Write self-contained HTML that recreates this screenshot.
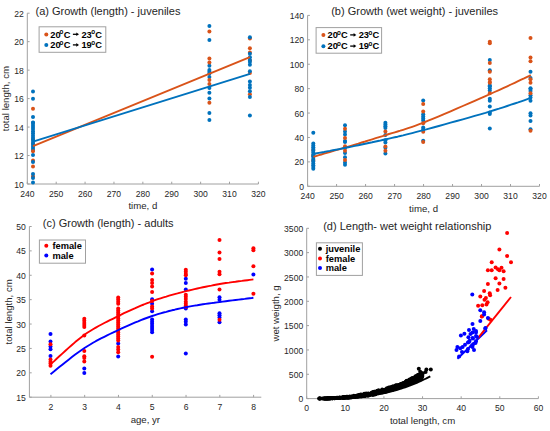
<!DOCTYPE html>
<html><head><meta charset="utf-8"><style>
html,body{margin:0;padding:0;background:#fff;width:550px;height:431px;overflow:hidden}
svg{display:block}
text{font-family:"Liberation Sans",sans-serif}
</style></head><body>
<svg width="550" height="431" viewBox="0 0 550 431" fill="#262626">
<rect width="550" height="431" fill="#fff"/>
<path d="M27.3 13.2V184.0H258.4" fill="none" stroke="#a0a0a0" stroke-width="1"/>
<path d="M27.3 184.0v-2.3" stroke="#a0a0a0" stroke-width="1"/>
<path d="M56.1875 184.0v-2.3" stroke="#a0a0a0" stroke-width="1"/>
<path d="M85.07499999999999 184.0v-2.3" stroke="#a0a0a0" stroke-width="1"/>
<path d="M113.96249999999999 184.0v-2.3" stroke="#a0a0a0" stroke-width="1"/>
<path d="M142.85 184.0v-2.3" stroke="#a0a0a0" stroke-width="1"/>
<path d="M171.73749999999998 184.0v-2.3" stroke="#a0a0a0" stroke-width="1"/>
<path d="M200.625 184.0v-2.3" stroke="#a0a0a0" stroke-width="1"/>
<path d="M229.5125 184.0v-2.3" stroke="#a0a0a0" stroke-width="1"/>
<path d="M258.4 184.0v-2.3" stroke="#a0a0a0" stroke-width="1"/>
<path d="M27.3 184.0h2.3" stroke="#a0a0a0" stroke-width="1"/>
<path d="M27.3 155.53333333333333h2.3" stroke="#a0a0a0" stroke-width="1"/>
<path d="M27.3 127.06666666666666h2.3" stroke="#a0a0a0" stroke-width="1"/>
<path d="M27.3 98.59999999999998h2.3" stroke="#a0a0a0" stroke-width="1"/>
<path d="M27.3 70.13333333333333h2.3" stroke="#a0a0a0" stroke-width="1"/>
<path d="M27.3 41.66666666666666h2.3" stroke="#a0a0a0" stroke-width="1"/>
<path d="M27.3 13.19999999999996h2.3" stroke="#a0a0a0" stroke-width="1"/>
<text transform="translate(27.30 196.50) scale(0.935 1)" font-size="9.2" text-anchor="middle">240</text>
<text transform="translate(56.19 196.50) scale(0.935 1)" font-size="9.2" text-anchor="middle">250</text>
<text transform="translate(85.07 196.50) scale(0.935 1)" font-size="9.2" text-anchor="middle">260</text>
<text transform="translate(113.96 196.50) scale(0.935 1)" font-size="9.2" text-anchor="middle">270</text>
<text transform="translate(142.85 196.50) scale(0.935 1)" font-size="9.2" text-anchor="middle">280</text>
<text transform="translate(171.74 196.50) scale(0.935 1)" font-size="9.2" text-anchor="middle">290</text>
<text transform="translate(200.62 196.50) scale(0.935 1)" font-size="9.2" text-anchor="middle">300</text>
<text transform="translate(229.51 196.50) scale(0.935 1)" font-size="9.2" text-anchor="middle">310</text>
<text transform="translate(258.40 196.50) scale(0.935 1)" font-size="9.2" text-anchor="middle">320</text>
<text transform="translate(23.80 187.60) scale(0.935 1)" font-size="9.2" text-anchor="end">10</text>
<text transform="translate(23.80 159.13) scale(0.935 1)" font-size="9.2" text-anchor="end">12</text>
<text transform="translate(23.80 130.67) scale(0.935 1)" font-size="9.2" text-anchor="end">14</text>
<text transform="translate(23.80 102.20) scale(0.935 1)" font-size="9.2" text-anchor="end">16</text>
<text transform="translate(23.80 73.73) scale(0.935 1)" font-size="9.2" text-anchor="end">18</text>
<text transform="translate(23.80 45.27) scale(0.935 1)" font-size="9.2" text-anchor="end">20</text>
<text transform="translate(23.80 16.80) scale(0.935 1)" font-size="9.2" text-anchor="end">22</text>
<text x="142.85" y="209.3" font-size="9.65" text-anchor="middle">time, d</text>
<text transform="translate(8.6 98.6) rotate(-90)" x="0" y="0" font-size="9.65" text-anchor="middle">total length, cm</text>
<text x="35.5" y="15.0" font-size="11">(a) Growth (length) - juveniles</text>
<circle cx="33.0" cy="139.5" r="2.0" fill="#D95319"/>
<circle cx="33.0" cy="143.7" r="2.0" fill="#D95319"/>
<circle cx="33.0" cy="160.4" r="2.0" fill="#D95319"/>
<circle cx="33.0" cy="176.2" r="2.0" fill="#D95319"/>
<circle cx="33.0" cy="91.4" r="2.0" fill="#0072BD"/>
<circle cx="33.0" cy="98.7" r="2.0" fill="#0072BD"/>
<circle cx="33.0" cy="117.0" r="2.0" fill="#0072BD"/>
<circle cx="33.0" cy="122.4" r="2.0" fill="#0072BD"/>
<circle cx="33.0" cy="122.8" r="2.0" fill="#0072BD"/>
<circle cx="33.0" cy="124.9" r="2.0" fill="#0072BD"/>
<circle cx="33.0" cy="127.0" r="2.0" fill="#0072BD"/>
<circle cx="33.0" cy="129.1" r="2.0" fill="#0072BD"/>
<circle cx="33.0" cy="131.2" r="2.0" fill="#0072BD"/>
<circle cx="33.0" cy="133.3" r="2.0" fill="#0072BD"/>
<circle cx="33.0" cy="135.4" r="2.0" fill="#0072BD"/>
<circle cx="33.0" cy="137.5" r="2.0" fill="#0072BD"/>
<circle cx="33.0" cy="139.6" r="2.0" fill="#0072BD"/>
<circle cx="33.0" cy="141.7" r="2.0" fill="#0072BD"/>
<circle cx="33.0" cy="143.8" r="2.0" fill="#0072BD"/>
<circle cx="33.0" cy="145.9" r="2.0" fill="#0072BD"/>
<circle cx="33.0" cy="148.0" r="2.0" fill="#0072BD"/>
<circle cx="33.0" cy="150.1" r="2.0" fill="#0072BD"/>
<circle cx="33.0" cy="155.1" r="2.0" fill="#0072BD"/>
<circle cx="33.0" cy="161.9" r="2.0" fill="#0072BD"/>
<circle cx="33.0" cy="174.1" r="2.0" fill="#0072BD"/>
<circle cx="33.0" cy="178.1" r="2.0" fill="#0072BD"/>
<circle cx="33.0" cy="182.5" r="2.0" fill="#0072BD"/>
<circle cx="33.0" cy="108.8" r="2.0" fill="#D95319"/>
<circle cx="33.0" cy="151.2" r="2.0" fill="#D95319"/>
<circle cx="33.0" cy="166.4" r="2.0" fill="#D95319"/>
<circle cx="209.4" cy="26.0" r="2.0" fill="#0072BD"/>
<circle cx="209.4" cy="39.9" r="2.0" fill="#0072BD"/>
<circle cx="209.4" cy="65.7" r="2.0" fill="#0072BD"/>
<circle cx="209.4" cy="70.1" r="2.0" fill="#0072BD"/>
<circle cx="209.4" cy="71.8" r="2.0" fill="#0072BD"/>
<circle cx="209.4" cy="73.6" r="2.0" fill="#0072BD"/>
<circle cx="209.4" cy="77.0" r="2.0" fill="#0072BD"/>
<circle cx="209.4" cy="88.0" r="2.0" fill="#0072BD"/>
<circle cx="209.4" cy="92.7" r="2.0" fill="#0072BD"/>
<circle cx="209.4" cy="98.5" r="2.0" fill="#0072BD"/>
<circle cx="209.4" cy="113.0" r="2.0" fill="#0072BD"/>
<circle cx="209.4" cy="119.9" r="2.0" fill="#0072BD"/>
<circle cx="209.4" cy="31.6" r="2.0" fill="#D95319"/>
<circle cx="209.4" cy="58.5" r="2.0" fill="#D95319"/>
<circle cx="209.4" cy="62.5" r="2.0" fill="#D95319"/>
<circle cx="209.4" cy="79.9" r="2.0" fill="#D95319"/>
<circle cx="209.4" cy="84.0" r="2.0" fill="#D95319"/>
<circle cx="209.4" cy="102.8" r="2.0" fill="#D95319"/>
<circle cx="249.9" cy="38.5" r="2.0" fill="#D95319"/>
<circle cx="249.9" cy="48.3" r="2.0" fill="#D95319"/>
<circle cx="249.9" cy="52.6" r="2.0" fill="#D95319"/>
<circle cx="249.9" cy="60.5" r="2.0" fill="#D95319"/>
<circle cx="249.9" cy="72.9" r="2.0" fill="#D95319"/>
<circle cx="249.9" cy="94.2" r="2.0" fill="#D95319"/>
<circle cx="249.9" cy="37.2" r="2.0" fill="#0072BD"/>
<circle cx="249.9" cy="53.8" r="2.0" fill="#0072BD"/>
<circle cx="249.9" cy="57.2" r="2.0" fill="#0072BD"/>
<circle cx="249.9" cy="60.0" r="2.0" fill="#0072BD"/>
<circle cx="249.9" cy="61.9" r="2.0" fill="#0072BD"/>
<circle cx="249.9" cy="64.8" r="2.0" fill="#0072BD"/>
<circle cx="249.9" cy="71.2" r="2.0" fill="#0072BD"/>
<circle cx="249.9" cy="81.4" r="2.0" fill="#0072BD"/>
<circle cx="249.9" cy="85.0" r="2.0" fill="#0072BD"/>
<circle cx="249.9" cy="87.8" r="2.0" fill="#0072BD"/>
<circle cx="249.9" cy="91.3" r="2.0" fill="#0072BD"/>
<circle cx="249.9" cy="97.1" r="2.0" fill="#0072BD"/>
<circle cx="249.9" cy="115.4" r="2.0" fill="#0072BD"/>
<path d="M33.0 146.2 L249.9 57.2" fill="none" stroke="#D95319" stroke-width="1.9" stroke-linejoin="round"/>
<path d="M33.0 141.6 L249.9 73.8" fill="none" stroke="#0072BD" stroke-width="1.9" stroke-linejoin="round"/>
<rect x="39.1" y="26.8" width="66.69999999999999" height="25.499999999999996" fill="#fff" stroke="#a0a0a0" stroke-width="1"/>
<circle cx="46.3" cy="34.4" r="2.0" fill="#D95319"/>
<text x="50.3" y="37.6" font-size="9.3" font-weight="bold" fill="#000">20</text>
<text x="59.599999999999994" y="34.1" font-size="6.3" font-weight="bold" fill="#000">o</text>
<text x="63.8" y="37.6" font-size="9.3" font-weight="bold" fill="#000">C</text>
<path d="M72.9 34.300000000000004H77.1" stroke="#000" stroke-width="1.3"/>
<path d="M76.3 32.50000000000001L79.0 34.300000000000004L76.3 36.1Z" fill="#000"/>
<text x="81.4" y="37.6" font-size="9.3" font-weight="bold" fill="#000">23</text>
<text x="91.3" y="34.1" font-size="6.3" font-weight="bold" fill="#000">o</text>
<text x="95.19999999999999" y="37.6" font-size="9.3" font-weight="bold" fill="#000">C</text>
<circle cx="46.3" cy="45.0" r="2.0" fill="#0072BD"/>
<text x="50.3" y="48.2" font-size="9.3" font-weight="bold" fill="#000">20</text>
<text x="59.599999999999994" y="44.7" font-size="6.3" font-weight="bold" fill="#000">o</text>
<text x="63.8" y="48.2" font-size="9.3" font-weight="bold" fill="#000">C</text>
<path d="M72.9 44.900000000000006H77.1" stroke="#000" stroke-width="1.3"/>
<path d="M76.3 43.10000000000001L79.0 44.900000000000006L76.3 46.7Z" fill="#000"/>
<text x="81.4" y="48.2" font-size="9.3" font-weight="bold" fill="#000">19</text>
<text x="91.3" y="44.7" font-size="6.3" font-weight="bold" fill="#000">o</text>
<text x="95.19999999999999" y="48.2" font-size="9.3" font-weight="bold" fill="#000">C</text>
<path d="M307.6 15.4V186.3H539.5" fill="none" stroke="#a0a0a0" stroke-width="1"/>
<path d="M307.6 186.3v-2.3" stroke="#a0a0a0" stroke-width="1"/>
<path d="M336.58750000000003 186.3v-2.3" stroke="#a0a0a0" stroke-width="1"/>
<path d="M365.57500000000005 186.3v-2.3" stroke="#a0a0a0" stroke-width="1"/>
<path d="M394.5625 186.3v-2.3" stroke="#a0a0a0" stroke-width="1"/>
<path d="M423.55 186.3v-2.3" stroke="#a0a0a0" stroke-width="1"/>
<path d="M452.5375 186.3v-2.3" stroke="#a0a0a0" stroke-width="1"/>
<path d="M481.525 186.3v-2.3" stroke="#a0a0a0" stroke-width="1"/>
<path d="M510.5125 186.3v-2.3" stroke="#a0a0a0" stroke-width="1"/>
<path d="M539.5 186.3v-2.3" stroke="#a0a0a0" stroke-width="1"/>
<path d="M307.6 186.3h2.3" stroke="#a0a0a0" stroke-width="1"/>
<path d="M307.6 161.8857142857143h2.3" stroke="#a0a0a0" stroke-width="1"/>
<path d="M307.6 137.4714285714286h2.3" stroke="#a0a0a0" stroke-width="1"/>
<path d="M307.6 113.05714285714286h2.3" stroke="#a0a0a0" stroke-width="1"/>
<path d="M307.6 88.64285714285715h2.3" stroke="#a0a0a0" stroke-width="1"/>
<path d="M307.6 64.22857142857144h2.3" stroke="#a0a0a0" stroke-width="1"/>
<path d="M307.6 39.81428571428572h2.3" stroke="#a0a0a0" stroke-width="1"/>
<path d="M307.6 15.400000000000006h2.3" stroke="#a0a0a0" stroke-width="1"/>
<text transform="translate(307.60 198.80) scale(0.935 1)" font-size="9.2" text-anchor="middle">240</text>
<text transform="translate(336.59 198.80) scale(0.935 1)" font-size="9.2" text-anchor="middle">250</text>
<text transform="translate(365.58 198.80) scale(0.935 1)" font-size="9.2" text-anchor="middle">260</text>
<text transform="translate(394.56 198.80) scale(0.935 1)" font-size="9.2" text-anchor="middle">270</text>
<text transform="translate(423.55 198.80) scale(0.935 1)" font-size="9.2" text-anchor="middle">280</text>
<text transform="translate(452.54 198.80) scale(0.935 1)" font-size="9.2" text-anchor="middle">290</text>
<text transform="translate(481.52 198.80) scale(0.935 1)" font-size="9.2" text-anchor="middle">300</text>
<text transform="translate(510.51 198.80) scale(0.935 1)" font-size="9.2" text-anchor="middle">310</text>
<text transform="translate(539.50 198.80) scale(0.935 1)" font-size="9.2" text-anchor="middle">320</text>
<text transform="translate(304.10 189.90) scale(0.935 1)" font-size="9.2" text-anchor="end">0</text>
<text transform="translate(304.10 165.49) scale(0.935 1)" font-size="9.2" text-anchor="end">20</text>
<text transform="translate(304.10 141.07) scale(0.935 1)" font-size="9.2" text-anchor="end">40</text>
<text transform="translate(304.10 116.66) scale(0.935 1)" font-size="9.2" text-anchor="end">60</text>
<text transform="translate(304.10 92.24) scale(0.935 1)" font-size="9.2" text-anchor="end">80</text>
<text transform="translate(304.10 67.83) scale(0.935 1)" font-size="9.2" text-anchor="end">100</text>
<text transform="translate(304.10 43.41) scale(0.935 1)" font-size="9.2" text-anchor="end">120</text>
<text transform="translate(304.10 19.00) scale(0.935 1)" font-size="9.2" text-anchor="end">140</text>
<text x="423.55" y="211.60000000000002" font-size="9.65" text-anchor="middle">time, d</text>
<text transform="translate(288.0 100.85000000000001) rotate(-90)" x="0" y="0" font-size="9.65" text-anchor="middle"></text>
<text x="331.2" y="14.9" font-size="11">(b) Growth (wet weight) - juveniles</text>
<circle cx="313.3" cy="150.0" r="2.0" fill="#D95319"/>
<circle cx="313.3" cy="155.5" r="2.0" fill="#D95319"/>
<circle cx="313.3" cy="160.5" r="2.0" fill="#D95319"/>
<circle cx="313.3" cy="132.7" r="2.0" fill="#0072BD"/>
<circle cx="313.3" cy="143.6" r="2.0" fill="#0072BD"/>
<circle cx="313.3" cy="145.4" r="2.0" fill="#0072BD"/>
<circle cx="313.3" cy="147.2" r="2.0" fill="#0072BD"/>
<circle cx="313.3" cy="149.0" r="2.0" fill="#0072BD"/>
<circle cx="313.3" cy="150.8" r="2.0" fill="#0072BD"/>
<circle cx="313.3" cy="152.6" r="2.0" fill="#0072BD"/>
<circle cx="313.3" cy="154.4" r="2.0" fill="#0072BD"/>
<circle cx="313.3" cy="156.2" r="2.0" fill="#0072BD"/>
<circle cx="313.3" cy="158.0" r="2.0" fill="#0072BD"/>
<circle cx="313.3" cy="159.8" r="2.0" fill="#0072BD"/>
<circle cx="313.3" cy="161.6" r="2.0" fill="#0072BD"/>
<circle cx="313.3" cy="163.4" r="2.0" fill="#0072BD"/>
<circle cx="313.3" cy="165.2" r="2.0" fill="#0072BD"/>
<circle cx="313.3" cy="167.0" r="2.0" fill="#0072BD"/>
<circle cx="313.3" cy="168.8" r="2.0" fill="#0072BD"/>
<circle cx="345.0" cy="125.2" r="2.0" fill="#0072BD"/>
<circle cx="345.0" cy="131.6" r="2.0" fill="#0072BD"/>
<circle cx="345.0" cy="134.5" r="2.0" fill="#0072BD"/>
<circle cx="345.0" cy="140.9" r="2.0" fill="#0072BD"/>
<circle cx="345.0" cy="142.1" r="2.0" fill="#0072BD"/>
<circle cx="345.0" cy="147.9" r="2.0" fill="#0072BD"/>
<circle cx="345.0" cy="153.1" r="2.0" fill="#0072BD"/>
<circle cx="345.0" cy="157.2" r="2.0" fill="#0072BD"/>
<circle cx="345.0" cy="162.4" r="2.0" fill="#0072BD"/>
<circle cx="345.0" cy="164.8" r="2.0" fill="#0072BD"/>
<circle cx="345.0" cy="128.7" r="2.0" fill="#D95319"/>
<circle cx="345.0" cy="138.0" r="2.0" fill="#D95319"/>
<circle cx="345.0" cy="146.2" r="2.0" fill="#D95319"/>
<circle cx="345.0" cy="150.8" r="2.0" fill="#D95319"/>
<circle cx="345.0" cy="160.1" r="2.0" fill="#D95319"/>
<circle cx="385.4" cy="122.8" r="2.0" fill="#0072BD"/>
<circle cx="385.4" cy="124.5" r="2.0" fill="#0072BD"/>
<circle cx="385.4" cy="126.3" r="2.0" fill="#0072BD"/>
<circle cx="385.4" cy="128.0" r="2.0" fill="#0072BD"/>
<circle cx="385.4" cy="135.0" r="2.0" fill="#0072BD"/>
<circle cx="385.4" cy="140.2" r="2.0" fill="#0072BD"/>
<circle cx="385.4" cy="142.6" r="2.0" fill="#0072BD"/>
<circle cx="385.4" cy="147.8" r="2.0" fill="#0072BD"/>
<circle cx="385.4" cy="153.6" r="2.0" fill="#0072BD"/>
<circle cx="385.4" cy="131.5" r="2.0" fill="#D95319"/>
<circle cx="385.4" cy="146.6" r="2.0" fill="#D95319"/>
<circle cx="385.4" cy="150.7" r="2.0" fill="#D95319"/>
<circle cx="423.2" cy="100.4" r="2.0" fill="#0072BD"/>
<circle cx="423.2" cy="114.3" r="2.0" fill="#0072BD"/>
<circle cx="423.2" cy="116.4" r="2.0" fill="#0072BD"/>
<circle cx="423.2" cy="118.5" r="2.0" fill="#0072BD"/>
<circle cx="423.2" cy="120.6" r="2.0" fill="#0072BD"/>
<circle cx="423.2" cy="127.5" r="2.0" fill="#0072BD"/>
<circle cx="423.2" cy="129.6" r="2.0" fill="#0072BD"/>
<circle cx="423.2" cy="140.7" r="2.0" fill="#0072BD"/>
<circle cx="423.2" cy="103.9" r="2.0" fill="#D95319"/>
<circle cx="423.2" cy="111.5" r="2.0" fill="#D95319"/>
<circle cx="423.2" cy="123.3" r="2.0" fill="#D95319"/>
<circle cx="423.2" cy="131.7" r="2.0" fill="#D95319"/>
<circle cx="423.2" cy="142.1" r="2.0" fill="#D95319"/>
<circle cx="489.8" cy="59.9" r="2.0" fill="#0072BD"/>
<circle cx="489.8" cy="70.3" r="2.0" fill="#0072BD"/>
<circle cx="489.8" cy="85.6" r="2.0" fill="#0072BD"/>
<circle cx="489.8" cy="86.3" r="2.0" fill="#0072BD"/>
<circle cx="489.8" cy="88.3" r="2.0" fill="#0072BD"/>
<circle cx="489.8" cy="90.4" r="2.0" fill="#0072BD"/>
<circle cx="489.8" cy="98.8" r="2.0" fill="#0072BD"/>
<circle cx="489.8" cy="100.8" r="2.0" fill="#0072BD"/>
<circle cx="489.8" cy="106.4" r="2.0" fill="#0072BD"/>
<circle cx="489.8" cy="112.6" r="2.0" fill="#0072BD"/>
<circle cx="489.8" cy="114.0" r="2.0" fill="#0072BD"/>
<circle cx="489.8" cy="128.6" r="2.0" fill="#0072BD"/>
<circle cx="489.8" cy="41.8" r="2.0" fill="#D95319"/>
<circle cx="489.8" cy="43.2" r="2.0" fill="#D95319"/>
<circle cx="489.8" cy="63.1" r="2.0" fill="#D95319"/>
<circle cx="489.8" cy="71.7" r="2.0" fill="#D95319"/>
<circle cx="489.8" cy="79.3" r="2.0" fill="#D95319"/>
<circle cx="489.8" cy="82.8" r="2.0" fill="#D95319"/>
<circle cx="489.8" cy="82.1" r="2.0" fill="#D95319"/>
<circle cx="489.8" cy="93.2" r="2.0" fill="#D95319"/>
<circle cx="530.5" cy="71.7" r="2.0" fill="#0072BD"/>
<circle cx="530.5" cy="77.9" r="2.0" fill="#0072BD"/>
<circle cx="530.5" cy="88.3" r="2.0" fill="#0072BD"/>
<circle cx="530.5" cy="89.0" r="2.0" fill="#0072BD"/>
<circle cx="530.5" cy="91.1" r="2.0" fill="#0072BD"/>
<circle cx="530.5" cy="95.3" r="2.0" fill="#0072BD"/>
<circle cx="530.5" cy="97.4" r="2.0" fill="#0072BD"/>
<circle cx="530.5" cy="100.8" r="2.0" fill="#0072BD"/>
<circle cx="530.5" cy="113.3" r="2.0" fill="#0072BD"/>
<circle cx="530.5" cy="115.4" r="2.0" fill="#0072BD"/>
<circle cx="530.5" cy="121.0" r="2.0" fill="#0072BD"/>
<circle cx="530.5" cy="129.3" r="2.0" fill="#0072BD"/>
<circle cx="530.5" cy="38.1" r="2.0" fill="#D95319"/>
<circle cx="530.5" cy="57.5" r="2.0" fill="#D95319"/>
<circle cx="530.5" cy="61.3" r="2.0" fill="#D95319"/>
<circle cx="530.5" cy="79.3" r="2.0" fill="#D95319"/>
<circle cx="530.5" cy="82.8" r="2.0" fill="#D95319"/>
<circle cx="530.5" cy="93.2" r="2.0" fill="#D95319"/>
<circle cx="530.5" cy="130.7" r="2.0" fill="#D95319"/>
<path d="M313.4 156.8 L314.9 156.3 L316.8 155.8 L318.9 155.2 L321.3 154.5 L324.0 153.7 L326.8 152.9 L329.8 152.0 L332.8 151.2 L336.0 150.2 L339.1 149.3 L342.2 148.4 L345.3 147.5 L348.4 146.6 L351.6 145.6 L354.9 144.6 L358.3 143.6 L361.7 142.5 L365.2 141.5 L368.7 140.4 L372.2 139.3 L375.7 138.2 L379.2 137.1 L382.6 136.1 L385.9 135.0 L389.0 134.0 L392.0 133.1 L394.8 132.3 L397.6 131.5 L400.3 130.7 L403.1 129.8 L405.9 128.9 L408.9 127.9 L412.2 126.8 L415.6 125.6 L419.4 124.2 L423.6 122.6 L428.2 120.7 L433.3 118.6 L438.8 116.3 L444.6 113.9 L450.6 111.3 L456.7 108.7 L462.8 106.0 L468.9 103.4 L474.7 100.8 L480.3 98.4 L485.5 96.1 L490.2 94.0 L494.6 92.0 L499.0 90.1 L503.2 88.2 L507.2 86.3 L511.0 84.5 L514.7 82.8 L518.1 81.2 L521.2 79.7 L524.1 78.4 L526.7 77.1 L528.9 76.1 L530.8 75.2" fill="none" stroke="#D95319" stroke-width="1.9" stroke-linejoin="round"/>
<path d="M313.4 154.0 L314.9 153.7 L316.8 153.3 L318.9 152.9 L321.3 152.5 L324.0 152.0 L326.8 151.4 L329.8 150.9 L332.8 150.3 L336.0 149.7 L339.1 149.1 L342.2 148.5 L345.3 147.8 L348.4 147.2 L351.6 146.6 L354.9 145.9 L358.3 145.2 L361.7 144.5 L365.2 143.8 L368.7 143.0 L372.2 142.3 L375.7 141.5 L379.2 140.8 L382.6 140.0 L385.9 139.3 L389.0 138.6 L392.0 137.9 L394.8 137.3 L397.6 136.7 L400.3 136.0 L403.1 135.4 L405.9 134.7 L408.9 133.9 L412.2 133.1 L415.6 132.2 L419.4 131.2 L423.6 130.1 L428.2 128.9 L433.3 127.5 L438.8 126.0 L444.6 124.4 L450.6 122.7 L456.7 121.0 L462.8 119.3 L468.9 117.6 L474.7 115.9 L480.3 114.3 L485.5 112.8 L490.2 111.3 L494.6 110.0 L499.0 108.7 L503.2 107.3 L507.2 106.0 L511.0 104.7 L514.7 103.5 L518.1 102.4 L521.2 101.3 L524.1 100.3 L526.7 99.4 L528.9 98.7 L530.8 98.0" fill="none" stroke="#0072BD" stroke-width="1.9" stroke-linejoin="round"/>
<rect x="316.1" y="27.6" width="65.5" height="25.6" fill="#fff" stroke="#a0a0a0" stroke-width="1"/>
<circle cx="323.4" cy="35.0" r="2.0" fill="#D95319"/>
<text x="327.6" y="38.2" font-size="9.3" font-weight="bold" fill="#000">20</text>
<text x="336.90000000000003" y="34.7" font-size="6.3" font-weight="bold" fill="#000">o</text>
<text x="341.1" y="38.2" font-size="9.3" font-weight="bold" fill="#000">C</text>
<path d="M350.20000000000005 34.900000000000006H354.40000000000003" stroke="#000" stroke-width="1.3"/>
<path d="M353.6 33.10000000000001L356.3 34.900000000000006L353.6 36.7Z" fill="#000"/>
<text x="358.70000000000005" y="38.2" font-size="9.3" font-weight="bold" fill="#000">23</text>
<text x="368.6" y="34.7" font-size="6.3" font-weight="bold" fill="#000">o</text>
<text x="372.5" y="38.2" font-size="9.3" font-weight="bold" fill="#000">C</text>
<circle cx="323.4" cy="46.2" r="2.0" fill="#0072BD"/>
<text x="327.6" y="49.400000000000006" font-size="9.3" font-weight="bold" fill="#000">20</text>
<text x="336.90000000000003" y="45.900000000000006" font-size="6.3" font-weight="bold" fill="#000">o</text>
<text x="341.1" y="49.400000000000006" font-size="9.3" font-weight="bold" fill="#000">C</text>
<path d="M350.20000000000005 46.10000000000001H354.40000000000003" stroke="#000" stroke-width="1.3"/>
<path d="M353.6 44.30000000000001L356.3 46.10000000000001L353.6 47.900000000000006Z" fill="#000"/>
<text x="358.70000000000005" y="49.400000000000006" font-size="9.3" font-weight="bold" fill="#000">19</text>
<text x="368.6" y="45.900000000000006" font-size="6.3" font-weight="bold" fill="#000">o</text>
<text x="372.5" y="49.400000000000006" font-size="9.3" font-weight="bold" fill="#000">C</text>
<path d="M29.4 226.5V397.2H261.3" fill="none" stroke="#a0a0a0" stroke-width="1"/>
<path d="M50.9 397.2v-2.3" stroke="#a0a0a0" stroke-width="1"/>
<path d="M84.68333333333334 397.2v-2.3" stroke="#a0a0a0" stroke-width="1"/>
<path d="M118.46666666666667 397.2v-2.3" stroke="#a0a0a0" stroke-width="1"/>
<path d="M152.24999999999997 397.2v-2.3" stroke="#a0a0a0" stroke-width="1"/>
<path d="M186.03333333333333 397.2v-2.3" stroke="#a0a0a0" stroke-width="1"/>
<path d="M219.81666666666666 397.2v-2.3" stroke="#a0a0a0" stroke-width="1"/>
<path d="M253.59999999999997 397.2v-2.3" stroke="#a0a0a0" stroke-width="1"/>
<path d="M29.4 397.2h2.3" stroke="#a0a0a0" stroke-width="1"/>
<path d="M29.4 372.8142857142857h2.3" stroke="#a0a0a0" stroke-width="1"/>
<path d="M29.4 348.42857142857144h2.3" stroke="#a0a0a0" stroke-width="1"/>
<path d="M29.4 324.04285714285714h2.3" stroke="#a0a0a0" stroke-width="1"/>
<path d="M29.4 299.65714285714284h2.3" stroke="#a0a0a0" stroke-width="1"/>
<path d="M29.4 275.27142857142854h2.3" stroke="#a0a0a0" stroke-width="1"/>
<path d="M29.4 250.88571428571427h2.3" stroke="#a0a0a0" stroke-width="1"/>
<path d="M29.4 226.5h2.3" stroke="#a0a0a0" stroke-width="1"/>
<text transform="translate(50.90 409.70) scale(0.935 1)" font-size="9.2" text-anchor="middle">2</text>
<text transform="translate(84.68 409.70) scale(0.935 1)" font-size="9.2" text-anchor="middle">3</text>
<text transform="translate(118.47 409.70) scale(0.935 1)" font-size="9.2" text-anchor="middle">4</text>
<text transform="translate(152.25 409.70) scale(0.935 1)" font-size="9.2" text-anchor="middle">5</text>
<text transform="translate(186.03 409.70) scale(0.935 1)" font-size="9.2" text-anchor="middle">6</text>
<text transform="translate(219.82 409.70) scale(0.935 1)" font-size="9.2" text-anchor="middle">7</text>
<text transform="translate(253.60 409.70) scale(0.935 1)" font-size="9.2" text-anchor="middle">8</text>
<text transform="translate(25.90 400.80) scale(0.935 1)" font-size="9.2" text-anchor="end">15</text>
<text transform="translate(25.90 376.41) scale(0.935 1)" font-size="9.2" text-anchor="end">20</text>
<text transform="translate(25.90 352.03) scale(0.935 1)" font-size="9.2" text-anchor="end">25</text>
<text transform="translate(25.90 327.64) scale(0.935 1)" font-size="9.2" text-anchor="end">30</text>
<text transform="translate(25.90 303.26) scale(0.935 1)" font-size="9.2" text-anchor="end">35</text>
<text transform="translate(25.90 278.87) scale(0.935 1)" font-size="9.2" text-anchor="end">40</text>
<text transform="translate(25.90 254.49) scale(0.935 1)" font-size="9.2" text-anchor="end">45</text>
<text transform="translate(25.90 230.10) scale(0.935 1)" font-size="9.2" text-anchor="end">50</text>
<text x="145.35" y="422.5" font-size="9.65" text-anchor="middle">age, yr</text>
<text transform="translate(12.0 311.85) rotate(-90)" x="0" y="0" font-size="9.65" text-anchor="middle">total length, cm</text>
<text x="42.8" y="227.4" font-size="11">(c) Growth (length) - adults</text>
<circle cx="50.5" cy="333.9" r="2.0" fill="#0000FF"/>
<circle cx="50.5" cy="341.5" r="2.0" fill="#0000FF"/>
<circle cx="50.5" cy="346.4" r="2.0" fill="#0000FF"/>
<circle cx="50.5" cy="349.2" r="2.0" fill="#0000FF"/>
<circle cx="50.5" cy="356.1" r="2.0" fill="#0000FF"/>
<circle cx="50.5" cy="344.3" r="2.0" fill="#FF0000"/>
<circle cx="50.5" cy="359.6" r="2.0" fill="#FF0000"/>
<circle cx="50.5" cy="361.7" r="2.0" fill="#FF0000"/>
<circle cx="50.5" cy="363.5" r="2.0" fill="#FF0000"/>
<circle cx="50.5" cy="365.8" r="2.0" fill="#FF0000"/>
<circle cx="84.3" cy="368.5" r="2.0" fill="#0000FF"/>
<circle cx="84.3" cy="373.1" r="2.0" fill="#0000FF"/>
<circle cx="84.3" cy="318.8" r="2.0" fill="#FF0000"/>
<circle cx="84.3" cy="320.8" r="2.0" fill="#FF0000"/>
<circle cx="84.3" cy="322.9" r="2.0" fill="#FF0000"/>
<circle cx="84.3" cy="325.0" r="2.0" fill="#FF0000"/>
<circle cx="84.3" cy="327.1" r="2.0" fill="#FF0000"/>
<circle cx="84.3" cy="335.6" r="2.0" fill="#FF0000"/>
<circle cx="84.3" cy="351.0" r="2.0" fill="#FF0000"/>
<circle cx="84.3" cy="356.3" r="2.0" fill="#FF0000"/>
<circle cx="84.3" cy="358.0" r="2.0" fill="#FF0000"/>
<circle cx="84.3" cy="361.5" r="2.0" fill="#FF0000"/>
<circle cx="118.2" cy="343.6" r="2.0" fill="#0000FF"/>
<circle cx="118.2" cy="356.6" r="2.0" fill="#0000FF"/>
<circle cx="118.2" cy="297.5" r="2.0" fill="#FF0000"/>
<circle cx="118.2" cy="299.6" r="2.0" fill="#FF0000"/>
<circle cx="118.2" cy="301.7" r="2.0" fill="#FF0000"/>
<circle cx="118.2" cy="303.8" r="2.0" fill="#FF0000"/>
<circle cx="118.2" cy="308.6" r="2.0" fill="#FF0000"/>
<circle cx="118.2" cy="310.6" r="2.0" fill="#FF0000"/>
<circle cx="118.2" cy="312.6" r="2.0" fill="#FF0000"/>
<circle cx="118.2" cy="314.6" r="2.0" fill="#FF0000"/>
<circle cx="118.2" cy="316.6" r="2.0" fill="#FF0000"/>
<circle cx="118.2" cy="318.6" r="2.0" fill="#FF0000"/>
<circle cx="118.2" cy="320.6" r="2.0" fill="#FF0000"/>
<circle cx="118.2" cy="322.6" r="2.0" fill="#FF0000"/>
<circle cx="118.2" cy="324.6" r="2.0" fill="#FF0000"/>
<circle cx="118.2" cy="326.6" r="2.0" fill="#FF0000"/>
<circle cx="118.2" cy="328.6" r="2.0" fill="#FF0000"/>
<circle cx="118.2" cy="330.6" r="2.0" fill="#FF0000"/>
<circle cx="118.2" cy="332.6" r="2.0" fill="#FF0000"/>
<circle cx="118.2" cy="334.6" r="2.0" fill="#FF0000"/>
<circle cx="118.2" cy="336.6" r="2.0" fill="#FF0000"/>
<circle cx="118.2" cy="338.6" r="2.0" fill="#FF0000"/>
<circle cx="118.2" cy="340.6" r="2.0" fill="#FF0000"/>
<circle cx="118.2" cy="347.1" r="2.0" fill="#FF0000"/>
<circle cx="118.2" cy="349.5" r="2.0" fill="#FF0000"/>
<circle cx="118.2" cy="352.3" r="2.0" fill="#FF0000"/>
<circle cx="152.1" cy="269.4" r="2.0" fill="#0000FF"/>
<circle cx="152.1" cy="299.2" r="2.0" fill="#0000FF"/>
<circle cx="152.1" cy="303.8" r="2.0" fill="#0000FF"/>
<circle cx="152.1" cy="311.2" r="2.0" fill="#0000FF"/>
<circle cx="152.1" cy="319.6" r="2.0" fill="#0000FF"/>
<circle cx="152.1" cy="321.7" r="2.0" fill="#0000FF"/>
<circle cx="152.1" cy="323.8" r="2.0" fill="#0000FF"/>
<circle cx="152.1" cy="325.9" r="2.0" fill="#0000FF"/>
<circle cx="152.1" cy="328.0" r="2.0" fill="#0000FF"/>
<circle cx="152.1" cy="330.1" r="2.0" fill="#0000FF"/>
<circle cx="152.1" cy="332.2" r="2.0" fill="#0000FF"/>
<circle cx="152.1" cy="273.6" r="2.0" fill="#FF0000"/>
<circle cx="152.1" cy="280.1" r="2.0" fill="#FF0000"/>
<circle cx="152.1" cy="282.9" r="2.0" fill="#FF0000"/>
<circle cx="152.1" cy="286.4" r="2.0" fill="#FF0000"/>
<circle cx="152.1" cy="291.9" r="2.0" fill="#FF0000"/>
<circle cx="152.1" cy="301.0" r="2.0" fill="#FF0000"/>
<circle cx="152.1" cy="306.5" r="2.0" fill="#FF0000"/>
<circle cx="152.1" cy="308.6" r="2.0" fill="#FF0000"/>
<circle cx="152.1" cy="356.7" r="2.0" fill="#FF0000"/>
<circle cx="185.8" cy="278.8" r="2.0" fill="#0000FF"/>
<circle cx="185.8" cy="282.9" r="2.0" fill="#0000FF"/>
<circle cx="185.8" cy="289.6" r="2.0" fill="#0000FF"/>
<circle cx="185.8" cy="308.6" r="2.0" fill="#0000FF"/>
<circle cx="185.8" cy="319.6" r="2.0" fill="#0000FF"/>
<circle cx="185.8" cy="321.7" r="2.0" fill="#0000FF"/>
<circle cx="185.8" cy="324.4" r="2.0" fill="#0000FF"/>
<circle cx="185.8" cy="353.6" r="2.0" fill="#0000FF"/>
<circle cx="185.8" cy="269.7" r="2.0" fill="#FF0000"/>
<circle cx="185.8" cy="271.8" r="2.0" fill="#FF0000"/>
<circle cx="185.8" cy="273.9" r="2.0" fill="#FF0000"/>
<circle cx="185.8" cy="275.3" r="2.0" fill="#FF0000"/>
<circle cx="185.8" cy="294.7" r="2.0" fill="#FF0000"/>
<circle cx="185.8" cy="296.8" r="2.0" fill="#FF0000"/>
<circle cx="185.8" cy="298.9" r="2.0" fill="#FF0000"/>
<circle cx="185.8" cy="301.7" r="2.0" fill="#FF0000"/>
<circle cx="185.8" cy="303.8" r="2.0" fill="#FF0000"/>
<circle cx="185.8" cy="305.8" r="2.0" fill="#FF0000"/>
<circle cx="185.8" cy="307.0" r="2.0" fill="#FF0000"/>
<circle cx="219.5" cy="297.2" r="2.0" fill="#0000FF"/>
<circle cx="219.5" cy="299.7" r="2.0" fill="#0000FF"/>
<circle cx="219.5" cy="313.2" r="2.0" fill="#0000FF"/>
<circle cx="219.5" cy="315.3" r="2.0" fill="#0000FF"/>
<circle cx="219.5" cy="317.4" r="2.0" fill="#0000FF"/>
<circle cx="219.5" cy="322.2" r="2.0" fill="#0000FF"/>
<circle cx="219.5" cy="240.1" r="2.0" fill="#FF0000"/>
<circle cx="219.5" cy="252.5" r="2.0" fill="#FF0000"/>
<circle cx="219.5" cy="258.9" r="2.0" fill="#FF0000"/>
<circle cx="219.5" cy="271.7" r="2.0" fill="#FF0000"/>
<circle cx="219.5" cy="274.2" r="2.0" fill="#FF0000"/>
<circle cx="219.5" cy="289.6" r="2.0" fill="#FF0000"/>
<circle cx="219.5" cy="319.7" r="2.0" fill="#FF0000"/>
<circle cx="253.4" cy="274.6" r="2.0" fill="#0000FF"/>
<circle cx="253.4" cy="248.3" r="2.0" fill="#FF0000"/>
<circle cx="253.4" cy="250.2" r="2.0" fill="#FF0000"/>
<circle cx="253.4" cy="266.3" r="2.0" fill="#FF0000"/>
<circle cx="253.4" cy="293.7" r="2.0" fill="#FF0000"/>
<path d="M50.5 364.4 L52.1 362.9 L54.2 361.1 L56.6 358.8 L59.3 356.3 L62.3 353.6 L65.4 350.8 L68.6 347.9 L71.9 345.0 L75.2 342.1 L78.4 339.5 L81.6 337.0 L84.5 334.8 L87.3 332.8 L90.2 331.0 L93.0 329.2 L95.8 327.6 L98.6 326.0 L101.5 324.5 L104.3 323.0 L107.1 321.6 L109.9 320.2 L112.8 318.8 L115.6 317.4 L118.4 316.0 L121.2 314.6 L124.0 313.2 L126.9 311.9 L129.7 310.6 L132.5 309.3 L135.3 308.1 L138.1 306.8 L140.9 305.6 L143.8 304.5 L146.6 303.3 L149.4 302.3 L152.2 301.2 L155.0 300.2 L157.8 299.2 L160.6 298.3 L163.5 297.4 L166.3 296.6 L169.1 295.7 L171.9 294.9 L174.7 294.1 L177.5 293.4 L180.4 292.6 L183.2 291.9 L186.0 291.2 L188.8 290.5 L191.6 289.8 L194.5 289.1 L197.3 288.5 L200.1 287.9 L202.9 287.3 L205.7 286.7 L208.5 286.1 L211.4 285.6 L214.2 285.0 L217.0 284.5 L219.8 284.0 L222.7 283.5 L225.8 283.0 L229.0 282.6 L232.3 282.1 L235.5 281.7 L238.7 281.2 L241.8 280.9 L244.7 280.5 L247.4 280.2 L249.7 279.9 L251.8 279.6 L253.4 279.4" fill="none" stroke="#FF0000" stroke-width="1.9" stroke-linejoin="round"/>
<path d="M50.5 374.2 L52.1 372.9 L54.2 371.3 L56.6 369.3 L59.3 367.1 L62.3 364.7 L65.4 362.2 L68.6 359.7 L71.9 357.1 L75.2 354.6 L78.4 352.2 L81.6 350.0 L84.5 348.0 L87.3 346.2 L90.2 344.5 L93.0 342.8 L95.8 341.2 L98.6 339.7 L101.5 338.2 L104.3 336.8 L107.1 335.4 L109.9 334.0 L112.8 332.7 L115.6 331.3 L118.4 330.0 L121.2 328.7 L124.0 327.4 L126.9 326.1 L129.7 324.8 L132.5 323.6 L135.3 322.4 L138.1 321.3 L140.9 320.1 L143.8 319.0 L146.6 318.0 L149.4 317.0 L152.2 316.0 L155.0 315.1 L157.8 314.2 L160.6 313.3 L163.5 312.5 L166.3 311.8 L169.1 311.0 L171.9 310.3 L174.7 309.7 L177.5 309.0 L180.4 308.4 L183.2 307.8 L186.0 307.2 L188.8 306.6 L191.6 306.1 L194.5 305.6 L197.3 305.2 L200.1 304.7 L202.9 304.3 L205.7 303.9 L208.5 303.5 L211.4 303.1 L214.2 302.8 L217.0 302.4 L219.8 302.0 L222.7 301.6 L225.8 301.2 L229.0 300.8 L232.3 300.4 L235.5 300.0 L238.7 299.6 L241.8 299.2 L244.7 298.9 L247.4 298.5 L249.7 298.2 L251.8 298.0 L253.4 297.8" fill="none" stroke="#0000FF" stroke-width="1.9" stroke-linejoin="round"/>
<rect x="39.4" y="240.0" width="46.1" height="23.19999999999999" fill="#fff" stroke="#a0a0a0" stroke-width="1"/>
<circle cx="46.3" cy="245.8" r="2.0" fill="#FF0000"/>
<text x="52.4" y="249.10000000000002" font-size="9.3" font-weight="bold" fill="#000">female</text>
<circle cx="46.3" cy="255.6" r="2.0" fill="#0000FF"/>
<text x="52.4" y="258.9" font-size="9.3" font-weight="bold" fill="#000">male</text>
<path d="M306.7 228.3V398.6H538.4" fill="none" stroke="#a0a0a0" stroke-width="1"/>
<path d="M306.7 398.6v-2.3" stroke="#a0a0a0" stroke-width="1"/>
<path d="M345.31666666666666 398.6v-2.3" stroke="#a0a0a0" stroke-width="1"/>
<path d="M383.93333333333334 398.6v-2.3" stroke="#a0a0a0" stroke-width="1"/>
<path d="M422.54999999999995 398.6v-2.3" stroke="#a0a0a0" stroke-width="1"/>
<path d="M461.16666666666663 398.6v-2.3" stroke="#a0a0a0" stroke-width="1"/>
<path d="M499.7833333333333 398.6v-2.3" stroke="#a0a0a0" stroke-width="1"/>
<path d="M538.4 398.6v-2.3" stroke="#a0a0a0" stroke-width="1"/>
<path d="M306.7 398.6h2.3" stroke="#a0a0a0" stroke-width="1"/>
<path d="M306.7 374.2714285714286h2.3" stroke="#a0a0a0" stroke-width="1"/>
<path d="M306.7 349.9428571428572h2.3" stroke="#a0a0a0" stroke-width="1"/>
<path d="M306.7 325.61428571428576h2.3" stroke="#a0a0a0" stroke-width="1"/>
<path d="M306.7 301.28571428571433h2.3" stroke="#a0a0a0" stroke-width="1"/>
<path d="M306.7 276.9571428571429h2.3" stroke="#a0a0a0" stroke-width="1"/>
<path d="M306.7 252.62857142857143h2.3" stroke="#a0a0a0" stroke-width="1"/>
<path d="M306.7 228.3h2.3" stroke="#a0a0a0" stroke-width="1"/>
<text transform="translate(306.70 411.10) scale(0.935 1)" font-size="9.2" text-anchor="middle">0</text>
<text transform="translate(345.32 411.10) scale(0.935 1)" font-size="9.2" text-anchor="middle">10</text>
<text transform="translate(383.93 411.10) scale(0.935 1)" font-size="9.2" text-anchor="middle">20</text>
<text transform="translate(422.55 411.10) scale(0.935 1)" font-size="9.2" text-anchor="middle">30</text>
<text transform="translate(461.17 411.10) scale(0.935 1)" font-size="9.2" text-anchor="middle">40</text>
<text transform="translate(499.78 411.10) scale(0.935 1)" font-size="9.2" text-anchor="middle">50</text>
<text transform="translate(538.40 411.10) scale(0.935 1)" font-size="9.2" text-anchor="middle">60</text>
<text transform="translate(303.20 402.20) scale(0.935 1)" font-size="9.2" text-anchor="end">0</text>
<text transform="translate(303.20 377.87) scale(0.935 1)" font-size="9.2" text-anchor="end">500</text>
<text transform="translate(303.20 353.54) scale(0.935 1)" font-size="9.2" text-anchor="end">1000</text>
<text transform="translate(303.20 329.21) scale(0.935 1)" font-size="9.2" text-anchor="end">1500</text>
<text transform="translate(303.20 304.89) scale(0.935 1)" font-size="9.2" text-anchor="end">2000</text>
<text transform="translate(303.20 280.56) scale(0.935 1)" font-size="9.2" text-anchor="end">2500</text>
<text transform="translate(303.20 256.23) scale(0.935 1)" font-size="9.2" text-anchor="end">3000</text>
<text transform="translate(303.20 231.90) scale(0.935 1)" font-size="9.2" text-anchor="end">3500</text>
<text x="422.54999999999995" y="423.90000000000003" font-size="9.65" text-anchor="middle">total length, cm</text>
<text transform="translate(279.1 313.45000000000005) rotate(-90)" x="0" y="0" font-size="9.65" text-anchor="middle">wet weigth, g</text>
<text x="323.2" y="229.8" font-size="11">(d) Length- wet weight relationship</text>
<circle cx="353.8" cy="396.9" r="2.0" fill="#000"/>
<circle cx="389.7" cy="389.5" r="2.0" fill="#000"/>
<circle cx="391.6" cy="388.5" r="2.0" fill="#000"/>
<circle cx="409.6" cy="381.8" r="2.0" fill="#000"/>
<circle cx="356.2" cy="396.1" r="2.0" fill="#000"/>
<circle cx="377.5" cy="390.8" r="2.0" fill="#000"/>
<circle cx="409.5" cy="383.6" r="2.0" fill="#000"/>
<circle cx="343.5" cy="397.5" r="2.0" fill="#000"/>
<circle cx="392.4" cy="387.6" r="2.0" fill="#000"/>
<circle cx="401.6" cy="386.1" r="2.0" fill="#000"/>
<circle cx="395.6" cy="385.7" r="2.0" fill="#000"/>
<circle cx="388.6" cy="388.9" r="2.0" fill="#000"/>
<circle cx="360.7" cy="394.5" r="2.0" fill="#000"/>
<circle cx="377.7" cy="392.1" r="2.0" fill="#000"/>
<circle cx="399.7" cy="384.8" r="2.0" fill="#000"/>
<circle cx="416.3" cy="380.3" r="2.0" fill="#000"/>
<circle cx="370.2" cy="393.8" r="2.0" fill="#000"/>
<circle cx="417.5" cy="379.7" r="2.0" fill="#000"/>
<circle cx="412.9" cy="379.8" r="2.0" fill="#000"/>
<circle cx="351.4" cy="396.7" r="2.0" fill="#000"/>
<circle cx="419.8" cy="379.0" r="2.0" fill="#000"/>
<circle cx="360.7" cy="395.4" r="2.0" fill="#000"/>
<circle cx="381.0" cy="392.3" r="2.0" fill="#000"/>
<circle cx="388.0" cy="389.1" r="2.0" fill="#000"/>
<circle cx="388.0" cy="388.5" r="2.0" fill="#000"/>
<circle cx="416.9" cy="379.7" r="2.0" fill="#000"/>
<circle cx="411.1" cy="379.2" r="2.0" fill="#000"/>
<circle cx="345.0" cy="397.5" r="2.0" fill="#000"/>
<circle cx="411.5" cy="378.5" r="2.0" fill="#000"/>
<circle cx="386.6" cy="390.6" r="2.0" fill="#000"/>
<circle cx="399.3" cy="385.6" r="2.0" fill="#000"/>
<circle cx="387.0" cy="388.2" r="2.0" fill="#000"/>
<circle cx="359.0" cy="394.9" r="2.0" fill="#000"/>
<circle cx="421.8" cy="374.7" r="2.0" fill="#000"/>
<circle cx="335.2" cy="398.0" r="2.0" fill="#000"/>
<circle cx="343.5" cy="397.7" r="2.0" fill="#000"/>
<circle cx="359.9" cy="395.7" r="2.0" fill="#000"/>
<circle cx="328.3" cy="398.4" r="2.0" fill="#000"/>
<circle cx="390.7" cy="387.4" r="2.0" fill="#000"/>
<circle cx="363.8" cy="394.9" r="2.0" fill="#000"/>
<circle cx="413.1" cy="378.6" r="2.0" fill="#000"/>
<circle cx="422.4" cy="375.9" r="2.0" fill="#000"/>
<circle cx="361.6" cy="394.8" r="2.0" fill="#000"/>
<circle cx="326.1" cy="398.4" r="2.0" fill="#000"/>
<circle cx="349.2" cy="397.4" r="2.0" fill="#000"/>
<circle cx="344.2" cy="397.3" r="2.0" fill="#000"/>
<circle cx="328.0" cy="398.3" r="2.0" fill="#000"/>
<circle cx="419.3" cy="378.3" r="2.0" fill="#000"/>
<circle cx="414.4" cy="380.8" r="2.0" fill="#000"/>
<circle cx="382.1" cy="390.6" r="2.0" fill="#000"/>
<circle cx="393.2" cy="389.1" r="2.0" fill="#000"/>
<circle cx="391.1" cy="389.5" r="2.0" fill="#000"/>
<circle cx="417.9" cy="379.6" r="2.0" fill="#000"/>
<circle cx="399.8" cy="385.9" r="2.0" fill="#000"/>
<circle cx="353.8" cy="396.9" r="2.0" fill="#000"/>
<circle cx="382.2" cy="389.5" r="2.0" fill="#000"/>
<circle cx="384.7" cy="389.7" r="2.0" fill="#000"/>
<circle cx="387.6" cy="389.8" r="2.0" fill="#000"/>
<circle cx="323.8" cy="398.5" r="2.0" fill="#000"/>
<circle cx="330.9" cy="398.3" r="2.0" fill="#000"/>
<circle cx="391.8" cy="389.9" r="2.0" fill="#000"/>
<circle cx="366.0" cy="394.6" r="2.0" fill="#000"/>
<circle cx="398.7" cy="386.3" r="2.0" fill="#000"/>
<circle cx="331.0" cy="398.3" r="2.0" fill="#000"/>
<circle cx="396.0" cy="386.5" r="2.0" fill="#000"/>
<circle cx="376.2" cy="393.0" r="2.0" fill="#000"/>
<circle cx="388.7" cy="389.9" r="2.0" fill="#000"/>
<circle cx="361.9" cy="395.0" r="2.0" fill="#000"/>
<circle cx="367.7" cy="395.0" r="2.0" fill="#000"/>
<circle cx="368.5" cy="394.7" r="2.0" fill="#000"/>
<circle cx="404.2" cy="382.7" r="2.0" fill="#000"/>
<circle cx="401.1" cy="385.2" r="2.0" fill="#000"/>
<circle cx="361.6" cy="395.4" r="2.0" fill="#000"/>
<circle cx="353.9" cy="395.8" r="2.0" fill="#000"/>
<circle cx="348.0" cy="397.5" r="2.0" fill="#000"/>
<circle cx="337.1" cy="397.9" r="2.0" fill="#000"/>
<circle cx="362.9" cy="395.9" r="2.0" fill="#000"/>
<circle cx="374.5" cy="391.7" r="2.0" fill="#000"/>
<circle cx="411.0" cy="380.7" r="2.0" fill="#000"/>
<circle cx="393.8" cy="387.2" r="2.0" fill="#000"/>
<circle cx="413.4" cy="381.1" r="2.0" fill="#000"/>
<circle cx="339.7" cy="397.8" r="2.0" fill="#000"/>
<circle cx="383.0" cy="390.5" r="2.0" fill="#000"/>
<circle cx="409.6" cy="379.6" r="2.0" fill="#000"/>
<circle cx="347.5" cy="397.3" r="2.0" fill="#000"/>
<circle cx="393.1" cy="386.3" r="2.0" fill="#000"/>
<circle cx="407.0" cy="383.3" r="2.0" fill="#000"/>
<circle cx="359.7" cy="395.6" r="2.0" fill="#000"/>
<circle cx="406.0" cy="383.6" r="2.0" fill="#000"/>
<circle cx="372.4" cy="392.9" r="2.0" fill="#000"/>
<circle cx="372.7" cy="394.8" r="2.0" fill="#000"/>
<circle cx="344.2" cy="397.2" r="2.0" fill="#000"/>
<circle cx="320.1" cy="398.5" r="2.0" fill="#000"/>
<circle cx="421.5" cy="377.3" r="2.0" fill="#000"/>
<circle cx="374.1" cy="391.7" r="2.0" fill="#000"/>
<circle cx="352.0" cy="397.0" r="2.0" fill="#000"/>
<circle cx="401.9" cy="384.2" r="2.0" fill="#000"/>
<circle cx="382.0" cy="392.4" r="2.0" fill="#000"/>
<circle cx="359.4" cy="396.0" r="2.0" fill="#000"/>
<circle cx="332.2" cy="398.2" r="2.0" fill="#000"/>
<circle cx="388.4" cy="390.0" r="2.0" fill="#000"/>
<circle cx="328.5" cy="398.2" r="2.0" fill="#000"/>
<circle cx="414.9" cy="380.6" r="2.0" fill="#000"/>
<circle cx="414.4" cy="382.1" r="2.0" fill="#000"/>
<circle cx="414.6" cy="379.8" r="2.0" fill="#000"/>
<circle cx="401.9" cy="385.1" r="2.0" fill="#000"/>
<circle cx="346.1" cy="397.4" r="2.0" fill="#000"/>
<circle cx="382.6" cy="389.9" r="2.0" fill="#000"/>
<circle cx="372.1" cy="392.6" r="2.0" fill="#000"/>
<circle cx="364.8" cy="395.3" r="2.0" fill="#000"/>
<circle cx="355.4" cy="396.1" r="2.0" fill="#000"/>
<circle cx="405.0" cy="384.8" r="2.0" fill="#000"/>
<circle cx="365.9" cy="394.6" r="2.0" fill="#000"/>
<circle cx="407.9" cy="381.2" r="2.0" fill="#000"/>
<circle cx="346.0" cy="397.2" r="2.0" fill="#000"/>
<circle cx="407.0" cy="385.0" r="2.0" fill="#000"/>
<circle cx="408.4" cy="380.6" r="2.0" fill="#000"/>
<circle cx="411.6" cy="380.9" r="2.0" fill="#000"/>
<circle cx="329.3" cy="398.3" r="2.0" fill="#000"/>
<circle cx="382.8" cy="390.5" r="2.0" fill="#000"/>
<circle cx="373.0" cy="394.7" r="2.0" fill="#000"/>
<circle cx="319.2" cy="398.5" r="2.0" fill="#000"/>
<circle cx="330.1" cy="398.3" r="2.0" fill="#000"/>
<circle cx="332.2" cy="398.2" r="2.0" fill="#000"/>
<circle cx="420.6" cy="376.2" r="2.0" fill="#000"/>
<circle cx="380.5" cy="392.1" r="2.0" fill="#000"/>
<circle cx="362.2" cy="395.6" r="2.0" fill="#000"/>
<circle cx="393.5" cy="387.2" r="2.0" fill="#000"/>
<circle cx="388.2" cy="390.1" r="2.0" fill="#000"/>
<circle cx="363.6" cy="394.9" r="2.0" fill="#000"/>
<circle cx="340.0" cy="398.0" r="2.0" fill="#000"/>
<circle cx="368.8" cy="394.7" r="2.0" fill="#000"/>
<circle cx="334.0" cy="398.1" r="2.0" fill="#000"/>
<circle cx="389.8" cy="388.4" r="2.0" fill="#000"/>
<circle cx="405.0" cy="385.2" r="2.0" fill="#000"/>
<circle cx="391.4" cy="387.5" r="2.0" fill="#000"/>
<circle cx="373.8" cy="393.9" r="2.0" fill="#000"/>
<circle cx="398.3" cy="385.6" r="2.0" fill="#000"/>
<circle cx="372.7" cy="393.8" r="2.0" fill="#000"/>
<circle cx="354.6" cy="396.9" r="2.0" fill="#000"/>
<circle cx="383.6" cy="391.1" r="2.0" fill="#000"/>
<circle cx="373.2" cy="393.7" r="2.0" fill="#000"/>
<circle cx="373.2" cy="392.0" r="2.0" fill="#000"/>
<circle cx="368.2" cy="395.4" r="2.0" fill="#000"/>
<circle cx="414.5" cy="379.4" r="2.0" fill="#000"/>
<circle cx="376.9" cy="393.2" r="2.0" fill="#000"/>
<circle cx="340.0" cy="397.7" r="2.0" fill="#000"/>
<circle cx="413.6" cy="381.9" r="2.0" fill="#000"/>
<circle cx="405.9" cy="384.4" r="2.0" fill="#000"/>
<circle cx="386.1" cy="391.5" r="2.0" fill="#000"/>
<circle cx="337.3" cy="398.0" r="2.0" fill="#000"/>
<circle cx="342.6" cy="397.6" r="2.0" fill="#000"/>
<circle cx="404.3" cy="383.6" r="2.0" fill="#000"/>
<circle cx="336.7" cy="398.0" r="2.0" fill="#000"/>
<circle cx="413.1" cy="380.2" r="2.0" fill="#000"/>
<circle cx="409.9" cy="381.5" r="2.0" fill="#000"/>
<circle cx="339.7" cy="397.7" r="2.0" fill="#000"/>
<circle cx="409.5" cy="383.4" r="2.0" fill="#000"/>
<circle cx="418.8" cy="379.9" r="2.0" fill="#000"/>
<circle cx="327.0" cy="398.4" r="2.0" fill="#000"/>
<circle cx="403.8" cy="385.9" r="2.0" fill="#000"/>
<circle cx="337.8" cy="398.0" r="2.0" fill="#000"/>
<circle cx="402.2" cy="384.6" r="2.0" fill="#000"/>
<circle cx="363.1" cy="395.4" r="2.0" fill="#000"/>
<circle cx="386.1" cy="390.0" r="2.0" fill="#000"/>
<circle cx="347.1" cy="397.4" r="2.0" fill="#000"/>
<circle cx="355.1" cy="396.9" r="2.0" fill="#000"/>
<circle cx="370.1" cy="394.8" r="2.0" fill="#000"/>
<circle cx="367.5" cy="395.0" r="2.0" fill="#000"/>
<circle cx="372.5" cy="393.2" r="2.0" fill="#000"/>
<circle cx="334.4" cy="398.3" r="2.0" fill="#000"/>
<circle cx="372.0" cy="393.7" r="2.0" fill="#000"/>
<circle cx="402.1" cy="384.1" r="2.0" fill="#000"/>
<circle cx="402.8" cy="383.3" r="2.0" fill="#000"/>
<circle cx="395.8" cy="388.3" r="2.0" fill="#000"/>
<circle cx="393.1" cy="388.3" r="2.0" fill="#000"/>
<circle cx="414.4" cy="379.3" r="2.0" fill="#000"/>
<circle cx="402.2" cy="384.6" r="2.0" fill="#000"/>
<circle cx="416.0" cy="380.5" r="2.0" fill="#000"/>
<circle cx="399.7" cy="386.0" r="2.0" fill="#000"/>
<circle cx="347.8" cy="397.2" r="2.0" fill="#000"/>
<circle cx="388.1" cy="389.1" r="2.0" fill="#000"/>
<circle cx="362.1" cy="395.4" r="2.0" fill="#000"/>
<circle cx="418.9" cy="374.9" r="2.0" fill="#000"/>
<circle cx="360.1" cy="395.9" r="2.0" fill="#000"/>
<circle cx="410.9" cy="382.6" r="2.0" fill="#000"/>
<circle cx="388.0" cy="389.8" r="2.0" fill="#000"/>
<circle cx="324.5" cy="398.4" r="2.0" fill="#000"/>
<circle cx="378.4" cy="392.7" r="2.0" fill="#000"/>
<circle cx="366.8" cy="394.4" r="2.0" fill="#000"/>
<circle cx="362.9" cy="395.3" r="2.0" fill="#000"/>
<circle cx="421.9" cy="376.9" r="2.0" fill="#000"/>
<circle cx="378.4" cy="393.0" r="2.0" fill="#000"/>
<circle cx="409.3" cy="382.8" r="2.0" fill="#000"/>
<circle cx="408.3" cy="383.7" r="2.0" fill="#000"/>
<circle cx="399.8" cy="386.2" r="2.0" fill="#000"/>
<circle cx="411.1" cy="382.8" r="2.0" fill="#000"/>
<circle cx="419.4" cy="375.6" r="2.0" fill="#000"/>
<circle cx="377.2" cy="392.5" r="2.0" fill="#000"/>
<circle cx="399.6" cy="385.2" r="2.0" fill="#000"/>
<circle cx="396.0" cy="385.3" r="2.0" fill="#000"/>
<circle cx="354.3" cy="396.7" r="2.0" fill="#000"/>
<circle cx="348.2" cy="397.2" r="2.0" fill="#000"/>
<circle cx="398.5" cy="385.7" r="2.0" fill="#000"/>
<circle cx="411.3" cy="380.3" r="2.0" fill="#000"/>
<circle cx="411.8" cy="381.5" r="2.0" fill="#000"/>
<circle cx="362.0" cy="396.2" r="2.0" fill="#000"/>
<circle cx="334.8" cy="398.0" r="2.0" fill="#000"/>
<circle cx="335.8" cy="398.0" r="2.0" fill="#000"/>
<circle cx="366.4" cy="395.2" r="2.0" fill="#000"/>
<circle cx="387.6" cy="389.9" r="2.0" fill="#000"/>
<circle cx="364.2" cy="395.2" r="2.0" fill="#000"/>
<circle cx="374.3" cy="393.7" r="2.0" fill="#000"/>
<circle cx="388.0" cy="389.7" r="2.0" fill="#000"/>
<circle cx="419.0" cy="378.9" r="2.0" fill="#000"/>
<circle cx="339.4" cy="397.7" r="2.0" fill="#000"/>
<circle cx="357.9" cy="396.2" r="2.0" fill="#000"/>
<circle cx="413.6" cy="380.7" r="2.0" fill="#000"/>
<circle cx="415.3" cy="376.5" r="2.0" fill="#000"/>
<circle cx="368.2" cy="393.4" r="2.0" fill="#000"/>
<circle cx="404.2" cy="384.1" r="2.0" fill="#000"/>
<circle cx="396.0" cy="388.0" r="2.0" fill="#000"/>
<circle cx="394.1" cy="387.6" r="2.0" fill="#000"/>
<circle cx="402.7" cy="385.5" r="2.0" fill="#000"/>
<circle cx="419.5" cy="378.1" r="2.0" fill="#000"/>
<circle cx="338.6" cy="398.0" r="2.0" fill="#000"/>
<circle cx="379.7" cy="392.8" r="2.0" fill="#000"/>
<circle cx="396.2" cy="385.8" r="2.0" fill="#000"/>
<circle cx="386.4" cy="389.6" r="2.0" fill="#000"/>
<circle cx="392.1" cy="387.2" r="2.0" fill="#000"/>
<circle cx="347.0" cy="397.0" r="2.0" fill="#000"/>
<circle cx="340.0" cy="397.9" r="2.0" fill="#000"/>
<circle cx="417.2" cy="377.5" r="2.0" fill="#000"/>
<circle cx="399.8" cy="385.2" r="2.0" fill="#000"/>
<circle cx="389.1" cy="390.6" r="2.0" fill="#000"/>
<circle cx="376.3" cy="393.2" r="2.0" fill="#000"/>
<circle cx="361.9" cy="395.4" r="2.0" fill="#000"/>
<circle cx="399.4" cy="385.7" r="2.0" fill="#000"/>
<circle cx="402.7" cy="386.3" r="2.0" fill="#000"/>
<circle cx="366.7" cy="395.0" r="2.0" fill="#000"/>
<circle cx="356.9" cy="396.8" r="2.0" fill="#000"/>
<circle cx="328.0" cy="398.3" r="2.0" fill="#000"/>
<circle cx="380.7" cy="391.7" r="2.0" fill="#000"/>
<circle cx="366.1" cy="393.5" r="2.0" fill="#000"/>
<circle cx="364.0" cy="395.7" r="2.0" fill="#000"/>
<circle cx="404.1" cy="383.4" r="2.0" fill="#000"/>
<circle cx="366.0" cy="394.6" r="2.0" fill="#000"/>
<circle cx="357.4" cy="396.3" r="2.0" fill="#000"/>
<circle cx="336.8" cy="397.8" r="2.0" fill="#000"/>
<circle cx="400.4" cy="384.5" r="2.0" fill="#000"/>
<circle cx="347.7" cy="397.1" r="2.0" fill="#000"/>
<circle cx="401.8" cy="384.1" r="2.0" fill="#000"/>
<circle cx="407.8" cy="382.7" r="2.0" fill="#000"/>
<circle cx="343.0" cy="397.8" r="2.0" fill="#000"/>
<circle cx="370.6" cy="393.7" r="2.0" fill="#000"/>
<circle cx="386.5" cy="389.0" r="2.0" fill="#000"/>
<circle cx="349.7" cy="397.0" r="2.0" fill="#000"/>
<circle cx="325.8" cy="398.4" r="2.0" fill="#000"/>
<circle cx="406.7" cy="380.9" r="2.0" fill="#000"/>
<circle cx="369.1" cy="395.2" r="2.0" fill="#000"/>
<circle cx="385.1" cy="391.6" r="2.0" fill="#000"/>
<circle cx="420.7" cy="377.7" r="2.0" fill="#000"/>
<circle cx="396.9" cy="387.4" r="2.0" fill="#000"/>
<circle cx="378.8" cy="390.5" r="2.0" fill="#000"/>
<circle cx="389.5" cy="389.3" r="2.0" fill="#000"/>
<circle cx="404.0" cy="384.3" r="2.0" fill="#000"/>
<circle cx="394.8" cy="388.7" r="2.0" fill="#000"/>
<circle cx="376.6" cy="392.7" r="2.0" fill="#000"/>
<circle cx="348.7" cy="397.2" r="2.0" fill="#000"/>
<circle cx="380.3" cy="391.9" r="2.0" fill="#000"/>
<circle cx="393.4" cy="389.2" r="2.0" fill="#000"/>
<circle cx="419.3" cy="376.6" r="2.0" fill="#000"/>
<circle cx="414.0" cy="378.2" r="2.0" fill="#000"/>
<circle cx="391.4" cy="387.3" r="2.0" fill="#000"/>
<circle cx="329.4" cy="398.3" r="2.0" fill="#000"/>
<circle cx="333.6" cy="398.1" r="2.0" fill="#000"/>
<circle cx="383.9" cy="390.2" r="2.0" fill="#000"/>
<circle cx="412.3" cy="381.2" r="2.0" fill="#000"/>
<circle cx="397.6" cy="385.3" r="2.0" fill="#000"/>
<circle cx="389.5" cy="387.8" r="2.0" fill="#000"/>
<circle cx="416.8" cy="379.1" r="2.0" fill="#000"/>
<circle cx="365.1" cy="395.9" r="2.0" fill="#000"/>
<circle cx="407.0" cy="380.7" r="2.0" fill="#000"/>
<circle cx="374.3" cy="393.8" r="2.0" fill="#000"/>
<circle cx="402.9" cy="385.2" r="2.0" fill="#000"/>
<circle cx="328.1" cy="398.4" r="2.0" fill="#000"/>
<circle cx="333.7" cy="398.1" r="2.0" fill="#000"/>
<circle cx="380.0" cy="391.4" r="2.0" fill="#000"/>
<circle cx="398.0" cy="387.4" r="2.0" fill="#000"/>
<circle cx="393.7" cy="388.2" r="2.0" fill="#000"/>
<circle cx="361.0" cy="396.4" r="2.0" fill="#000"/>
<circle cx="370.9" cy="393.7" r="2.0" fill="#000"/>
<circle cx="347.2" cy="396.9" r="2.0" fill="#000"/>
<circle cx="367.4" cy="395.2" r="2.0" fill="#000"/>
<circle cx="367.8" cy="395.3" r="2.0" fill="#000"/>
<circle cx="352.2" cy="396.8" r="2.0" fill="#000"/>
<circle cx="319.5" cy="398.5" r="2.0" fill="#000"/>
<circle cx="342.6" cy="397.3" r="2.0" fill="#000"/>
<circle cx="376.5" cy="392.5" r="2.0" fill="#000"/>
<circle cx="346.0" cy="397.2" r="2.0" fill="#000"/>
<circle cx="371.1" cy="393.8" r="2.0" fill="#000"/>
<circle cx="338.2" cy="397.9" r="2.0" fill="#000"/>
<circle cx="345.7" cy="397.5" r="2.0" fill="#000"/>
<circle cx="324.3" cy="398.5" r="2.0" fill="#000"/>
<circle cx="375.4" cy="393.9" r="2.0" fill="#000"/>
<circle cx="329.5" cy="398.3" r="2.0" fill="#000"/>
<circle cx="371.1" cy="394.0" r="2.0" fill="#000"/>
<circle cx="419.8" cy="376.8" r="2.0" fill="#000"/>
<circle cx="351.7" cy="396.5" r="2.0" fill="#000"/>
<circle cx="345.2" cy="397.3" r="2.0" fill="#000"/>
<circle cx="391.4" cy="389.0" r="2.0" fill="#000"/>
<circle cx="329.6" cy="398.3" r="2.0" fill="#000"/>
<circle cx="400.4" cy="385.9" r="2.0" fill="#000"/>
<circle cx="377.0" cy="391.0" r="2.0" fill="#000"/>
<circle cx="417.3" cy="378.7" r="2.0" fill="#000"/>
<circle cx="356.9" cy="395.9" r="2.0" fill="#000"/>
<circle cx="407.7" cy="383.5" r="2.0" fill="#000"/>
<circle cx="335.9" cy="398.1" r="2.0" fill="#000"/>
<circle cx="396.6" cy="385.7" r="2.0" fill="#000"/>
<circle cx="319.8" cy="398.5" r="2.0" fill="#000"/>
<circle cx="325.9" cy="398.4" r="2.0" fill="#000"/>
<circle cx="327.0" cy="398.4" r="2.0" fill="#000"/>
<circle cx="330.0" cy="398.4" r="2.0" fill="#000"/>
<circle cx="349.5" cy="397.5" r="2.0" fill="#000"/>
<circle cx="420.5" cy="379.4" r="2.0" fill="#000"/>
<circle cx="416.0" cy="378.5" r="2.0" fill="#000"/>
<circle cx="417.8" cy="376.7" r="2.0" fill="#000"/>
<circle cx="390.0" cy="389.0" r="2.0" fill="#000"/>
<circle cx="418.3" cy="376.6" r="2.0" fill="#000"/>
<circle cx="410.6" cy="380.9" r="2.0" fill="#000"/>
<circle cx="338.8" cy="398.0" r="2.0" fill="#000"/>
<circle cx="396.4" cy="386.5" r="2.0" fill="#000"/>
<circle cx="416.9" cy="377.3" r="2.0" fill="#000"/>
<circle cx="401.0" cy="383.9" r="2.0" fill="#000"/>
<circle cx="409.4" cy="384.1" r="2.0" fill="#000"/>
<circle cx="367.0" cy="395.1" r="2.0" fill="#000"/>
<circle cx="372.2" cy="393.5" r="2.0" fill="#000"/>
<circle cx="378.5" cy="390.6" r="2.0" fill="#000"/>
<circle cx="357.3" cy="395.8" r="2.0" fill="#000"/>
<circle cx="389.9" cy="387.8" r="2.0" fill="#000"/>
<circle cx="399.0" cy="386.9" r="2.0" fill="#000"/>
<circle cx="343.9" cy="397.4" r="2.0" fill="#000"/>
<circle cx="399.0" cy="385.0" r="2.0" fill="#000"/>
<circle cx="403.0" cy="384.4" r="2.0" fill="#000"/>
<circle cx="396.1" cy="386.6" r="2.0" fill="#000"/>
<circle cx="410.1" cy="381.1" r="2.0" fill="#000"/>
<circle cx="393.1" cy="386.7" r="2.0" fill="#000"/>
<circle cx="375.6" cy="394.0" r="2.0" fill="#000"/>
<circle cx="414.4" cy="379.8" r="2.0" fill="#000"/>
<circle cx="367.8" cy="395.1" r="2.0" fill="#000"/>
<circle cx="332.8" cy="398.3" r="2.0" fill="#000"/>
<circle cx="337.5" cy="397.8" r="2.0" fill="#000"/>
<circle cx="386.6" cy="389.9" r="2.0" fill="#000"/>
<circle cx="393.7" cy="387.7" r="2.0" fill="#000"/>
<circle cx="354.1" cy="396.3" r="2.0" fill="#000"/>
<circle cx="393.3" cy="387.9" r="2.0" fill="#000"/>
<circle cx="388.1" cy="389.0" r="2.0" fill="#000"/>
<circle cx="420.0" cy="376.9" r="2.0" fill="#000"/>
<circle cx="351.8" cy="397.1" r="2.0" fill="#000"/>
<circle cx="404.9" cy="384.3" r="2.0" fill="#000"/>
<circle cx="389.8" cy="388.9" r="2.0" fill="#000"/>
<circle cx="348.1" cy="397.5" r="2.0" fill="#000"/>
<circle cx="346.8" cy="396.8" r="2.0" fill="#000"/>
<circle cx="338.5" cy="397.8" r="2.0" fill="#000"/>
<circle cx="324.6" cy="398.4" r="2.0" fill="#000"/>
<circle cx="414.1" cy="380.0" r="2.0" fill="#000"/>
<circle cx="334.8" cy="398.2" r="2.0" fill="#000"/>
<circle cx="408.9" cy="382.0" r="2.0" fill="#000"/>
<circle cx="390.7" cy="389.9" r="2.0" fill="#000"/>
<circle cx="412.3" cy="382.3" r="2.0" fill="#000"/>
<circle cx="365.3" cy="395.4" r="2.0" fill="#000"/>
<circle cx="338.3" cy="398.0" r="2.0" fill="#000"/>
<circle cx="409.4" cy="383.8" r="2.0" fill="#000"/>
<circle cx="350.2" cy="397.3" r="2.0" fill="#000"/>
<circle cx="383.9" cy="392.2" r="2.0" fill="#000"/>
<circle cx="333.6" cy="398.1" r="2.0" fill="#000"/>
<circle cx="365.3" cy="395.2" r="2.0" fill="#000"/>
<circle cx="385.1" cy="390.5" r="2.0" fill="#000"/>
<circle cx="401.1" cy="386.6" r="2.0" fill="#000"/>
<circle cx="389.9" cy="388.5" r="2.0" fill="#000"/>
<circle cx="351.1" cy="397.4" r="2.0" fill="#000"/>
<circle cx="364.2" cy="393.8" r="2.0" fill="#000"/>
<circle cx="373.7" cy="392.9" r="2.0" fill="#000"/>
<circle cx="345.3" cy="397.3" r="2.0" fill="#000"/>
<circle cx="417.1" cy="378.8" r="2.0" fill="#000"/>
<circle cx="421.5" cy="379.0" r="2.0" fill="#000"/>
<circle cx="390.4" cy="387.9" r="2.0" fill="#000"/>
<circle cx="372.6" cy="394.0" r="2.0" fill="#000"/>
<circle cx="418.5" cy="374.7" r="2.0" fill="#000"/>
<circle cx="378.8" cy="393.3" r="2.0" fill="#000"/>
<circle cx="404.3" cy="386.0" r="2.0" fill="#000"/>
<circle cx="416.3" cy="375.9" r="2.0" fill="#000"/>
<circle cx="359.7" cy="395.5" r="2.0" fill="#000"/>
<circle cx="336.2" cy="398.1" r="2.0" fill="#000"/>
<circle cx="400.0" cy="386.1" r="2.0" fill="#000"/>
<circle cx="392.8" cy="387.1" r="2.0" fill="#000"/>
<circle cx="327.7" cy="398.4" r="2.0" fill="#000"/>
<circle cx="373.9" cy="393.9" r="2.0" fill="#000"/>
<circle cx="365.2" cy="395.0" r="2.0" fill="#000"/>
<circle cx="359.2" cy="396.6" r="2.0" fill="#000"/>
<circle cx="337.3" cy="398.0" r="2.0" fill="#000"/>
<circle cx="333.6" cy="398.1" r="2.0" fill="#000"/>
<circle cx="343.8" cy="397.5" r="2.0" fill="#000"/>
<circle cx="420.7" cy="379.0" r="2.0" fill="#000"/>
<circle cx="421.0" cy="375.3" r="2.0" fill="#000"/>
<circle cx="344.8" cy="397.6" r="2.0" fill="#000"/>
<circle cx="361.8" cy="396.1" r="2.0" fill="#000"/>
<circle cx="384.2" cy="390.6" r="2.0" fill="#000"/>
<circle cx="366.7" cy="394.4" r="2.0" fill="#000"/>
<circle cx="376.8" cy="393.2" r="2.0" fill="#000"/>
<circle cx="413.6" cy="379.7" r="2.0" fill="#000"/>
<circle cx="354.3" cy="396.8" r="2.0" fill="#000"/>
<circle cx="407.0" cy="382.4" r="2.0" fill="#000"/>
<circle cx="383.1" cy="391.1" r="2.0" fill="#000"/>
<circle cx="383.6" cy="390.8" r="2.0" fill="#000"/>
<circle cx="349.9" cy="396.9" r="2.0" fill="#000"/>
<circle cx="404.0" cy="386.1" r="2.0" fill="#000"/>
<circle cx="405.3" cy="383.0" r="2.0" fill="#000"/>
<circle cx="420.9" cy="375.4" r="2.0" fill="#000"/>
<circle cx="322.3" cy="398.5" r="2.0" fill="#000"/>
<circle cx="373.9" cy="393.4" r="2.0" fill="#000"/>
<circle cx="384.5" cy="390.5" r="2.0" fill="#000"/>
<circle cx="336.0" cy="398.1" r="2.0" fill="#000"/>
<circle cx="406.7" cy="382.3" r="2.0" fill="#000"/>
<circle cx="372.5" cy="393.6" r="2.0" fill="#000"/>
<circle cx="373.6" cy="393.1" r="2.0" fill="#000"/>
<circle cx="391.8" cy="389.5" r="2.0" fill="#000"/>
<circle cx="407.2" cy="384.9" r="2.0" fill="#000"/>
<circle cx="354.9" cy="396.0" r="2.0" fill="#000"/>
<circle cx="405.6" cy="382.1" r="2.0" fill="#000"/>
<circle cx="381.1" cy="391.1" r="2.0" fill="#000"/>
<circle cx="358.4" cy="396.5" r="2.0" fill="#000"/>
<circle cx="345.7" cy="397.0" r="2.0" fill="#000"/>
<circle cx="414.4" cy="379.5" r="2.0" fill="#000"/>
<circle cx="415.1" cy="381.3" r="2.0" fill="#000"/>
<circle cx="416.9" cy="378.0" r="2.0" fill="#000"/>
<circle cx="407.6" cy="383.7" r="2.0" fill="#000"/>
<circle cx="382.0" cy="391.9" r="2.0" fill="#000"/>
<circle cx="346.0" cy="397.2" r="2.0" fill="#000"/>
<circle cx="421.9" cy="373.4" r="2.0" fill="#000"/>
<circle cx="384.6" cy="391.4" r="2.0" fill="#000"/>
<circle cx="376.0" cy="392.4" r="2.0" fill="#000"/>
<circle cx="406.7" cy="385.1" r="2.0" fill="#000"/>
<circle cx="344.1" cy="397.4" r="2.0" fill="#000"/>
<circle cx="362.1" cy="396.0" r="2.0" fill="#000"/>
<circle cx="410.7" cy="381.6" r="2.0" fill="#000"/>
<circle cx="408.8" cy="380.7" r="2.0" fill="#000"/>
<circle cx="325.9" cy="398.4" r="2.0" fill="#000"/>
<circle cx="387.1" cy="391.0" r="2.0" fill="#000"/>
<circle cx="358.4" cy="396.2" r="2.0" fill="#000"/>
<circle cx="398.9" cy="385.8" r="2.0" fill="#000"/>
<circle cx="395.4" cy="387.6" r="2.0" fill="#000"/>
<circle cx="367.9" cy="395.5" r="2.0" fill="#000"/>
<circle cx="419.4" cy="377.5" r="2.0" fill="#000"/>
<circle cx="393.2" cy="387.4" r="2.0" fill="#000"/>
<circle cx="347.2" cy="396.7" r="2.0" fill="#000"/>
<circle cx="369.1" cy="394.0" r="2.0" fill="#000"/>
<circle cx="357.4" cy="396.5" r="2.0" fill="#000"/>
<circle cx="418.6" cy="376.3" r="2.0" fill="#000"/>
<circle cx="370.0" cy="394.3" r="2.0" fill="#000"/>
<circle cx="358.6" cy="395.7" r="2.0" fill="#000"/>
<circle cx="421.0" cy="375.5" r="2.0" fill="#000"/>
<circle cx="333.9" cy="398.1" r="2.0" fill="#000"/>
<circle cx="333.9" cy="398.1" r="2.0" fill="#000"/>
<circle cx="382.7" cy="391.3" r="2.0" fill="#000"/>
<circle cx="392.1" cy="390.1" r="2.0" fill="#000"/>
<circle cx="408.0" cy="381.6" r="2.0" fill="#000"/>
<circle cx="419.5" cy="377.1" r="2.0" fill="#000"/>
<circle cx="332.4" cy="398.2" r="2.0" fill="#000"/>
<circle cx="357.1" cy="395.6" r="2.0" fill="#000"/>
<circle cx="384.5" cy="390.1" r="2.0" fill="#000"/>
<circle cx="419.2" cy="377.0" r="2.0" fill="#000"/>
<circle cx="342.7" cy="397.5" r="2.0" fill="#000"/>
<circle cx="422.0" cy="376.5" r="2.0" fill="#000"/>
<circle cx="395.9" cy="387.6" r="2.0" fill="#000"/>
<circle cx="330.1" cy="398.3" r="2.0" fill="#000"/>
<circle cx="403.1" cy="384.3" r="2.0" fill="#000"/>
<circle cx="408.4" cy="381.7" r="2.0" fill="#000"/>
<circle cx="412.6" cy="377.9" r="2.0" fill="#000"/>
<circle cx="383.5" cy="390.3" r="2.0" fill="#000"/>
<circle cx="369.0" cy="393.7" r="2.0" fill="#000"/>
<circle cx="421.6" cy="375.0" r="2.0" fill="#000"/>
<circle cx="358.5" cy="395.8" r="2.0" fill="#000"/>
<circle cx="340.5" cy="397.7" r="2.0" fill="#000"/>
<circle cx="366.0" cy="394.6" r="2.0" fill="#000"/>
<circle cx="348.5" cy="397.2" r="2.0" fill="#000"/>
<circle cx="417.8" cy="375.1" r="2.0" fill="#000"/>
<circle cx="354.7" cy="396.5" r="2.0" fill="#000"/>
<circle cx="366.2" cy="394.0" r="2.0" fill="#000"/>
<circle cx="398.4" cy="386.7" r="2.0" fill="#000"/>
<circle cx="361.9" cy="394.9" r="2.0" fill="#000"/>
<circle cx="402.2" cy="384.8" r="2.0" fill="#000"/>
<circle cx="405.0" cy="384.9" r="2.0" fill="#000"/>
<circle cx="383.8" cy="391.4" r="2.0" fill="#000"/>
<circle cx="374.8" cy="394.4" r="2.0" fill="#000"/>
<circle cx="349.5" cy="397.1" r="2.0" fill="#000"/>
<circle cx="388.9" cy="387.6" r="2.0" fill="#000"/>
<circle cx="347.0" cy="397.4" r="2.0" fill="#000"/>
<circle cx="419.7" cy="376.6" r="2.0" fill="#000"/>
<circle cx="356.9" cy="396.4" r="2.0" fill="#000"/>
<circle cx="349.7" cy="396.4" r="2.0" fill="#000"/>
<circle cx="371.6" cy="393.1" r="2.0" fill="#000"/>
<circle cx="412.4" cy="380.5" r="2.0" fill="#000"/>
<circle cx="412.2" cy="380.6" r="2.0" fill="#000"/>
<circle cx="406.0" cy="381.6" r="2.0" fill="#000"/>
<circle cx="382.6" cy="391.3" r="2.0" fill="#000"/>
<circle cx="403.7" cy="383.2" r="2.0" fill="#000"/>
<circle cx="374.7" cy="392.6" r="2.0" fill="#000"/>
<circle cx="343.0" cy="397.7" r="2.0" fill="#000"/>
<circle cx="380.9" cy="392.1" r="2.0" fill="#000"/>
<circle cx="368.1" cy="394.7" r="2.0" fill="#000"/>
<circle cx="389.5" cy="388.5" r="2.0" fill="#000"/>
<circle cx="421.0" cy="373.2" r="2.0" fill="#000"/>
<circle cx="409.4" cy="382.9" r="2.0" fill="#000"/>
<circle cx="359.1" cy="395.5" r="2.0" fill="#000"/>
<circle cx="340.0" cy="397.8" r="2.0" fill="#000"/>
<circle cx="380.4" cy="391.9" r="2.0" fill="#000"/>
<circle cx="393.4" cy="388.9" r="2.0" fill="#000"/>
<circle cx="358.7" cy="395.4" r="2.0" fill="#000"/>
<circle cx="378.2" cy="392.5" r="2.0" fill="#000"/>
<circle cx="418.8" cy="368.8" r="2.0" fill="#000"/>
<circle cx="420.2" cy="371.8" r="2.0" fill="#000"/>
<circle cx="422.8" cy="373.2" r="2.0" fill="#000"/>
<circle cx="425.6" cy="372.0" r="2.0" fill="#000"/>
<circle cx="426.4" cy="369.6" r="2.0" fill="#000"/>
<circle cx="430.8" cy="369.4" r="2.0" fill="#000"/>
<path d="M318.3 398.6 L320.2 398.6 L322.1 398.6 L324.1 398.5 L326.0 398.5 L327.9 398.5 L329.9 398.5 L331.8 398.4 L333.7 398.4 L335.7 398.3 L337.6 398.3 L339.5 398.2 L341.5 398.1 L343.4 398.0 L345.3 397.9 L347.2 397.8 L349.2 397.7 L351.1 397.6 L353.0 397.4 L355.0 397.3 L356.9 397.1 L358.8 396.9 L360.8 396.7 L362.7 396.5 L364.6 396.3 L366.6 396.1 L368.5 395.8 L370.4 395.6 L372.3 395.3 L374.3 395.0 L376.2 394.6 L378.1 394.3 L380.1 393.9 L382.0 393.6 L383.9 393.2 L385.9 392.8 L387.8 392.3 L389.7 391.9 L391.7 391.4 L393.6 390.9 L395.5 390.3 L397.4 389.8 L399.4 389.2 L401.3 388.6 L403.2 388.0 L405.2 387.3 L407.1 386.7 L409.0 386.0 L411.0 385.2 L412.9 384.5 L414.8 383.7 L416.8 382.9 L418.7 382.0 L420.6 381.2 L422.5 380.3 L424.5 379.3 L426.4 378.4 L428.3 377.4 L430.3 376.4" fill="none" stroke="#000" stroke-width="1.8" stroke-linejoin="round"/>
<path d="M457.4 358.7 L487.0 330.3" fill="none" stroke="#0000FF" stroke-width="1.9" stroke-linejoin="round"/>
<path d="M477.7 338.4 L511.0 297.0" fill="none" stroke="#FF0000" stroke-width="1.9" stroke-linejoin="round"/>
<circle cx="507.1" cy="232.9" r="2.0" fill="#FF0000"/>
<circle cx="499.4" cy="249.6" r="2.0" fill="#FF0000"/>
<circle cx="507.1" cy="255.9" r="2.0" fill="#FF0000"/>
<circle cx="511.0" cy="262.3" r="2.0" fill="#FF0000"/>
<circle cx="491.7" cy="262.3" r="2.0" fill="#FF0000"/>
<circle cx="487.9" cy="270.2" r="2.0" fill="#FF0000"/>
<circle cx="491.7" cy="270.2" r="2.0" fill="#FF0000"/>
<circle cx="495.6" cy="267.4" r="2.0" fill="#FF0000"/>
<circle cx="498.0" cy="269.3" r="2.0" fill="#FF0000"/>
<circle cx="499.4" cy="270.2" r="2.0" fill="#FF0000"/>
<circle cx="501.5" cy="267.7" r="2.0" fill="#FF0000"/>
<circle cx="503.6" cy="271.2" r="2.0" fill="#FF0000"/>
<circle cx="495.6" cy="278.2" r="2.0" fill="#FF0000"/>
<circle cx="503.6" cy="279.0" r="2.0" fill="#FF0000"/>
<circle cx="487.9" cy="284.1" r="2.0" fill="#FF0000"/>
<circle cx="499.4" cy="283.4" r="2.0" fill="#FF0000"/>
<circle cx="505.4" cy="287.7" r="2.0" fill="#FF0000"/>
<circle cx="497.6" cy="290.0" r="2.0" fill="#FF0000"/>
<circle cx="484.1" cy="290.9" r="2.0" fill="#FF0000"/>
<circle cx="489.7" cy="293.2" r="2.0" fill="#FF0000"/>
<circle cx="490.1" cy="295.3" r="2.0" fill="#FF0000"/>
<circle cx="480.3" cy="296.4" r="2.0" fill="#FF0000"/>
<circle cx="485.9" cy="298.1" r="2.0" fill="#FF0000"/>
<circle cx="484.5" cy="299.8" r="2.0" fill="#FF0000"/>
<circle cx="487.6" cy="302.3" r="2.0" fill="#FF0000"/>
<circle cx="486.5" cy="304.4" r="2.0" fill="#FF0000"/>
<circle cx="482.3" cy="305.3" r="2.0" fill="#FF0000"/>
<circle cx="478.1" cy="305.7" r="2.0" fill="#FF0000"/>
<circle cx="482.0" cy="316.2" r="2.0" fill="#FF0000"/>
<circle cx="490.4" cy="319.7" r="2.0" fill="#FF0000"/>
<circle cx="481.8" cy="316.4" r="2.0" fill="#FF0000"/>
<circle cx="488.7" cy="318.7" r="2.0" fill="#FF0000"/>
<circle cx="472.3" cy="294.6" r="2.0" fill="#0000FF"/>
<circle cx="480.3" cy="310.3" r="2.0" fill="#0000FF"/>
<circle cx="484.1" cy="312.3" r="2.0" fill="#0000FF"/>
<circle cx="484.1" cy="314.5" r="2.0" fill="#0000FF"/>
<circle cx="487.9" cy="317.9" r="2.0" fill="#0000FF"/>
<circle cx="480.3" cy="321.1" r="2.0" fill="#0000FF"/>
<circle cx="472.5" cy="323.9" r="2.0" fill="#0000FF"/>
<circle cx="485.3" cy="328.6" r="2.0" fill="#0000FF"/>
<circle cx="473.7" cy="329.1" r="2.0" fill="#0000FF"/>
<circle cx="476.0" cy="332.6" r="2.0" fill="#0000FF"/>
<circle cx="472.5" cy="332.6" r="2.0" fill="#0000FF"/>
<circle cx="464.4" cy="333.8" r="2.0" fill="#0000FF"/>
<circle cx="460.9" cy="335.5" r="2.0" fill="#0000FF"/>
<circle cx="468.4" cy="337.3" r="2.0" fill="#0000FF"/>
<circle cx="476.0" cy="336.1" r="2.0" fill="#0000FF"/>
<circle cx="472.5" cy="337.9" r="2.0" fill="#0000FF"/>
<circle cx="469.6" cy="340.8" r="2.0" fill="#0000FF"/>
<circle cx="476.0" cy="341.3" r="2.0" fill="#0000FF"/>
<circle cx="467.9" cy="342.5" r="2.0" fill="#0000FF"/>
<circle cx="473.1" cy="344.2" r="2.0" fill="#0000FF"/>
<circle cx="465.0" cy="344.8" r="2.0" fill="#0000FF"/>
<circle cx="457.4" cy="347.1" r="2.0" fill="#0000FF"/>
<circle cx="460.3" cy="348.3" r="2.0" fill="#0000FF"/>
<circle cx="462.6" cy="347.1" r="2.0" fill="#0000FF"/>
<circle cx="472.5" cy="347.1" r="2.0" fill="#0000FF"/>
<circle cx="467.3" cy="351.2" r="2.0" fill="#0000FF"/>
<circle cx="459.1" cy="356.4" r="2.0" fill="#0000FF"/>
<circle cx="485.5" cy="328.0" r="2.0" fill="#0000FF"/>
<circle cx="469.0" cy="330.0" r="2.0" fill="#0000FF"/>
<circle cx="470.5" cy="334.0" r="2.0" fill="#0000FF"/>
<circle cx="473.0" cy="338.5" r="2.0" fill="#0000FF"/>
<circle cx="469.0" cy="342.0" r="2.0" fill="#0000FF"/>
<circle cx="475.5" cy="343.0" r="2.0" fill="#0000FF"/>
<circle cx="471.5" cy="346.0" r="2.0" fill="#0000FF"/>
<circle cx="468.0" cy="349.0" r="2.0" fill="#0000FF"/>
<circle cx="474.0" cy="350.0" r="2.0" fill="#0000FF"/>
<circle cx="476.0" cy="331.0" r="2.0" fill="#0000FF"/>
<circle cx="477.0" cy="337.0" r="2.0" fill="#0000FF"/>
<circle cx="462.0" cy="352.0" r="2.0" fill="#0000FF"/>
<circle cx="456.5" cy="350.0" r="2.0" fill="#0000FF"/>
<rect x="316.4" y="242.8" width="46.0" height="32.599999999999966" fill="#fff" stroke="#a0a0a0" stroke-width="1"/>
<circle cx="320.0" cy="248.8" r="2.0" fill="#000"/>
<text x="325.7" y="252.10000000000002" font-size="9.3" font-weight="bold" fill="#000">juvenile</text>
<circle cx="320.0" cy="258.4" r="2.0" fill="#FF0000"/>
<text x="325.7" y="261.7" font-size="9.3" font-weight="bold" fill="#000">female</text>
<circle cx="320.0" cy="267.9" r="2.0" fill="#0000FF"/>
<text x="325.7" y="271.2" font-size="9.3" font-weight="bold" fill="#000">male</text>
</svg>
</body></html>
